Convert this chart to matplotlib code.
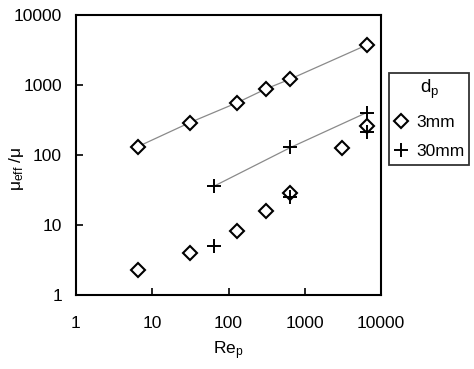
import matplotlib
matplotlib.use("Agg")
import matplotlib.pyplot as plt

plt.rcParams['font.family'] = ['Liberation Sans', 'DejaVu Sans']
plt.rcParams['mathtext.fontset'] = 'custom'
plt.rcParams['mathtext.rm'] = 'Liberation Sans'
plt.rcParams['mathtext.it'] = 'Liberation Sans'
plt.rcParams['mathtext.default'] = 'regular'

# Data (3 mm particles)
re_3mm_upper = [6.5, 31, 128, 310, 650, 6500]
mu_3mm_upper = [132, 290, 555, 880, 1220, 3730]
re_3mm_lower = [6.5, 31, 128, 310, 650, 3100, 6500]
mu_3mm_lower = [2.27, 3.93, 8.3, 15.8, 29, 126, 260]
# Data (30 mm particles)
re_30mm_upper = [65, 650, 6500]
mu_30mm_upper = [36, 128, 404]
re_30mm_lower = [65, 650, 6500]
mu_30mm_lower = [4.95, 25, 216]

x_ticks = [1, 10, 100, 1000, 10000]
y_ticks = [1, 10, 100, 1000, 10000]

fig = plt.figure(figsize=(4.74, 3.69), dpi=100)
ax = fig.add_axes([76/474, 1-295/369, (381-76)/474, (295-15)/369])

fs = 12.5
ax.plot(re_3mm_upper, mu_3mm_upper, '-', color='#8a8a8a', lw=0.9, zorder=1)
ax.plot(re_30mm_upper, mu_30mm_upper, '-', color='#8a8a8a', lw=0.9, zorder=1)

dkw = dict(marker='D', ms=7, mfc='white', mec='black', mew=1.5, ls='none', zorder=3)
pkw = dict(marker='+', ms=10, mec='black', mew=1.4, ls='none', zorder=4)
h1, = ax.plot(re_3mm_upper, mu_3mm_upper, **dkw)
ax.plot(re_3mm_lower, mu_3mm_lower, **dkw)
h2, = ax.plot(re_30mm_upper, mu_30mm_upper, **pkw)
ax.plot(re_30mm_lower, mu_30mm_lower, **pkw)

ax.set_xscale('log')
ax.set_yscale('log')
ax.set_xlim(1, 10000)
ax.set_ylim(1, 10000)
ax.set_xticks(x_ticks)
ax.set_xticklabels([str(v) for v in x_ticks])
ax.set_yticks(y_ticks)
ax.set_yticklabels([str(v) for v in y_ticks])
ax.minorticks_off()
ax.tick_params(axis='x', direction='in', length=5, width=1.2, labelsize=fs, pad=15)
ax.tick_params(axis='y', direction='in', length=5, width=1.2, labelsize=fs, pad=10)
for s in ax.spines.values():
    s.set_linewidth(1.5)

ax.set_xlabel('$Re_p$', fontsize=fs, labelpad=6)
ax.set_ylabel('$μ_{eff}$ /μ', fontsize=fs)
ax.yaxis.set_label_coords(-0.165, 0.45)

leg = fig.legend([h1, h2], ['3mm', '30mm'], title='$d_p$', loc='upper left',
                 bbox_to_anchor=(389/474, 1-73/369), fontsize=fs, title_fontsize=fs + 1,
                 frameon=True, fancybox=False, edgecolor='black', borderpad=0.3,
                 handlelength=0.8, handletextpad=0.45, labelspacing=0.8,
                 borderaxespad=0)
leg.get_frame().set_linewidth(1.3)

fig.savefig('out.png', dpi=100)
